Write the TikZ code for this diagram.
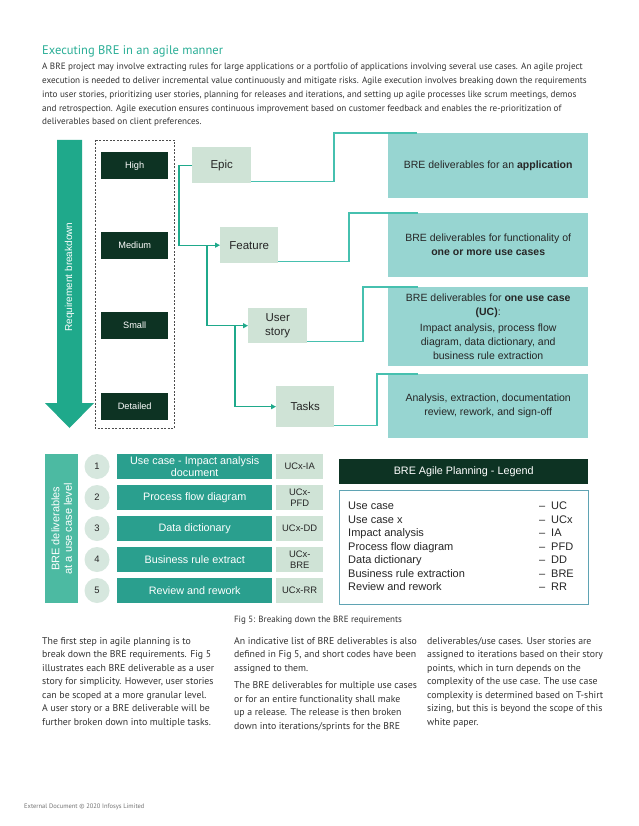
\documentclass[tikz,border=0pt]{standalone}
\usepackage{fontspec}
\setmainfont{Liberation Sans}
\newfontfamily\bodyfont{PT Sans}
\usetikzlibrary{arrows.meta}
\definecolor{titleteal}{HTML}{2AAE96}
\definecolor{arrowgreen}{HTML}{1FA98B}
\definecolor{darkgreen}{HTML}{0D3323}
\definecolor{sage}{HTML}{CFE3D6}
\definecolor{lightteal}{HTML}{97D5D1}
\definecolor{linkteal}{HTML}{46C0AF}
\definecolor{barteal}{HTML}{2A9F8E}
\definecolor{panelteal}{HTML}{4CBAA2}
\definecolor{circlesage}{HTML}{D6E7DE}
\definecolor{legendborder}{HTML}{5FA3B3}
\definecolor{bodytext}{HTML}{333333}
\definecolor{diagtext}{HTML}{262626}
\newcommand\toplines[2]{\parbox[t]{#1}{\raggedright #2}}
\begin{document}
\begin{tikzpicture}[x=1pt,y=-1pt,
  levelbox/.style={fill=darkgreen,text=white,minimum width=67pt,minimum height=27pt,inner sep=0pt,anchor=north west,font=\fontsize{9.2}{11}\selectfont},
  stagebox/.style={fill=sage,text=diagtext,inner sep=0pt,anchor=north west,align=center,font=\fontsize{11.5}{14}\selectfont},
  delbox/.style={fill=lightteal,text=diagtext,inner sep=0pt,anchor=north west,minimum width=200pt,align=center,font=\fontsize{10.5}{14}\selectfont},
  link/.style={draw=linkteal,line width=1.1pt},
  flow/.style={draw=arrowgreen,line width=1.1pt,-{Triangle[length=5pt,width=5pt]}},
  bar/.style={fill=barteal,text=white,minimum width=155pt,minimum height=25pt,inner sep=0pt,anchor=north west,align=center,font=\fontsize{10.8}{12.5}\selectfont},
  codebox/.style={fill=sage,text=diagtext,minimum width=47pt,minimum height=25pt,inner sep=0pt,anchor=north west,align=center,font=\fontsize{9.4}{11}\selectfont},
  numcircle/.style={circle,fill=circlesage,text=diagtext,minimum size=25pt,inner sep=0pt,font=\fontsize{9.4}{11}\selectfont},
  legtext/.style={anchor=base west,inner sep=0pt,text=diagtext,font=\fontsize{11}{13}\selectfont},
  bodypar/.style={anchor=base west,inner sep=0pt,text=bodytext},
]
\useasboundingbox[fill=white] (0,0) rectangle (638,826);

% ---- header text
\node[anchor=base west,inner sep=0pt,text=titleteal,font=\bodyfont\fontsize{12.5}{15}\selectfont] (title) at (42,55) {Executing BRE in an agile manner};
\node[bodypar,font=\bodyfont\fontsize{9.15}{13.75}\selectfont] (intro) at (42,70) {\toplines{590pt}{A BRE project may involve extracting rules for large applications or a portfolio of applications involving several use cases. An agile project\\
execution is needed to deliver incremental value continuously and mitigate risks. Agile execution involves breaking down the requirements\\
into user stories, prioritizing user stories, planning for releases and iterations, and setting up agile processes like scrum meetings, demos\\
and retrospection. Agile execution ensures continuous improvement based on customer feedback and enables the re-prioritization of\\
deliverables based on client preferences.}};

% ---- requirement breakdown arrow
\fill[arrowgreen] (57,140) -- (82,140) -- (82,403) -- (94,403) -- (69.5,428) -- (45,403) -- (57,403) -- cycle;
\node[rotate=90,text=white,inner sep=0pt,font=\fontsize{10}{12}\selectfont] (reqlabel) at (69.5,277) {Requirement breakdown};

% ---- dashed level box
\draw[draw=black!70,line width=0.8pt,dash pattern=on 2pt off 1.5pt] (95,140) rectangle (174,428);
\node[levelbox] (high) at (101,152) {High};
\node[levelbox] (medium) at (101,232) {Medium};
\node[levelbox] (small) at (101,312) {Small};
\node[levelbox] (detailed) at (101,393) {Detailed};

% ---- stage boxes
\node[stagebox,minimum width=59pt,minimum height=36pt] (epic) at (192,147) {Epic};
\node[stagebox,minimum width=58pt,minimum height=36pt] (feature) at (220,227) {Feature};
\node[stagebox,minimum width=59pt,minimum height=35pt] (ustory) at (248,308) {User\\story};
\node[stagebox,minimum width=58pt,minimum height=41pt] (tasks) at (276,386) {Tasks};

% ---- deliverable boxes
\node[delbox,minimum height=65pt] (d1) at (388,133) {BRE deliverables for an \textbf{application}};
\node[delbox,minimum height=64pt] (d2) at (388,213) {BRE deliverables for functionality of\\\textbf{one or more use cases}};
\node[delbox,minimum height=79pt] (d3) at (388,287) {BRE deliverables for \textbf{one use case}\\\textbf{(UC)}:\\[1.5pt]Impact analysis, process flow\\diagram, data dictionary, and\\business rule extraction};
\node[delbox,minimum height=64pt] (d4) at (388,374) {Analysis, extraction, documentation\\review, rework, and sign-off};

% ---- flow connectors
\coordinate (j1) at (207,245);
\coordinate (j2) at (235,325.5);
\draw[flow] (epic.west) -- ++(-13,0) |- (feature.west);
\draw[flow] (j1) |- (ustory.west);
\draw[flow] (j2) |- (tasks.west);

% ---- links to deliverables
\draw[link] ([yshift=2pt]epic.south east) -| ([xshift=-54pt]d1.north west) -- ([xshift=29pt]d1.north west);
\draw[link] ([yshift=2pt]feature.south east) -| ([xshift=-39pt]d2.north west) -- ([xshift=30pt]d2.north west);
\draw[link] ([yshift=2pt]ustory.south east) -| ([xshift=-25pt]d3.north west) -- ([xshift=30pt]d3.north west);
\draw[link] ([yshift=2pt]tasks.south east) -| ([xshift=-11pt]d4.north west) -- ([xshift=30pt]d4.north west);

% ---- use case level section
\node[fill=panelteal,minimum width=33pt,minimum height=149pt,inner sep=0pt,anchor=north west] (panel) at (45,454) {};
\node[rotate=90,text=white,align=center,inner sep=0pt,font=\fontsize{11}{12.5}\selectfont] (panellabel) at (panel.center) {BRE deliverables\\at a use case level};

\node[numcircle] (c1) at (97,466.5) {1};
\node[numcircle] (c2) at (97,497.5) {2};
\node[numcircle] (c3) at (97,528.5) {3};
\node[numcircle] (c4) at (97,559.5) {4};
\node[numcircle] (c5) at (97,590.5) {5};

\node[bar] (b1) at (117,454) {Use case - Impact analysis\\document};
\node[bar] (b2) at (117,485) {Process flow diagram};
\node[bar] (b3) at (117,516) {Data dictionary};
\node[bar] (b4) at (117,547) {Business rule extract};
\node[bar] (b5) at (117,578) {Review and rework};

\node[codebox] (k1) at (276,454) {UCx-IA};
\node[codebox] (k2) at (276,485) {UCx-\\PFD};
\node[codebox] (k3) at (276,516) {UCx-DD};
\node[codebox] (k4) at (276,547) {UCx-\\BRE};
\node[codebox] (k5) at (276,578) {UCx-RR};

% ---- legend
\node[fill=darkgreen,text=white,minimum width=249pt,minimum height=25pt,inner sep=0pt,anchor=north west,font=\fontsize{10.8}{12}\selectfont] (leghead) at (339,459) {BRE Agile Planning - Legend};
\node[draw=legendborder,line width=1.2pt,fill=white,minimum width=249pt,minimum height=114pt,inner sep=0pt,anchor=north west] (legbox) at (339,490) {};
\foreach \lab/\code [count=\i from 0] in {Use case/UC,Use case x/UCx,Impact analysis/IA,Process flow diagram/PFD,Data dictionary/DD,Business rule extraction/BRE,Review and rework/RR}{
  \node[legtext] (lt\i) at (348,509.7+13.5*\i) {\lab};
  \node[legtext] (ld\i) at (539,509.7+13.5*\i) {–};
  \node[legtext] (lc\i) at (551,509.7+13.5*\i) {\code};
}

% ---- caption
\node[anchor=base,inner sep=0pt,text=bodytext,font=\bodyfont\fontsize{9}{10}\selectfont] (caption) at (318,622) {Fig 5: Breaking down the BRE requirements};

% ---- columns
\node[bodypar,font=\bodyfont\fontsize{9.8}{13.5}\selectfont] (col1) at (42,644) {\toplines{200pt}{The first step in agile planning is to\\
break down the BRE requirements. Fig 5\\
illustrates each BRE deliverable as a user\\
story for simplicity. However, user stories\\
can be scoped at a more granular level.\\
A user story or a BRE deliverable will be\\
further broken down into multiple tasks.}};
\node[bodypar,font=\bodyfont\fontsize{9.8}{13.5}\selectfont] (col2) at (234,644) {\toplines{200pt}{An indicative list of BRE deliverables is also\\
defined in Fig 5, and short codes have been\\
assigned to them.\\[4pt]
The BRE deliverables for multiple use cases\\
or for an entire functionality shall make\\
up a release. The release is then broken\\
down into iterations/sprints for the BRE}};
\node[bodypar,font=\bodyfont\fontsize{9.8}{13.5}\selectfont] (col3) at (427,644) {\toplines{200pt}{deliverables/use cases. User stories are\\
assigned to iterations based on their story\\
points, which in turn depends on the\\
complexity of the use case. The use case\\
complexity is determined based on T-shirt\\
sizing, but this is beyond the scope of this\\
white paper.}};

% ---- footer
\node[anchor=base west,inner sep=0pt,text=black!55,font=\bodyfont\fontsize{6.5}{7}\selectfont] (footer) at (24,808) {External Document © 2020 Infosys Limited};
\end{tikzpicture}
\end{document}
